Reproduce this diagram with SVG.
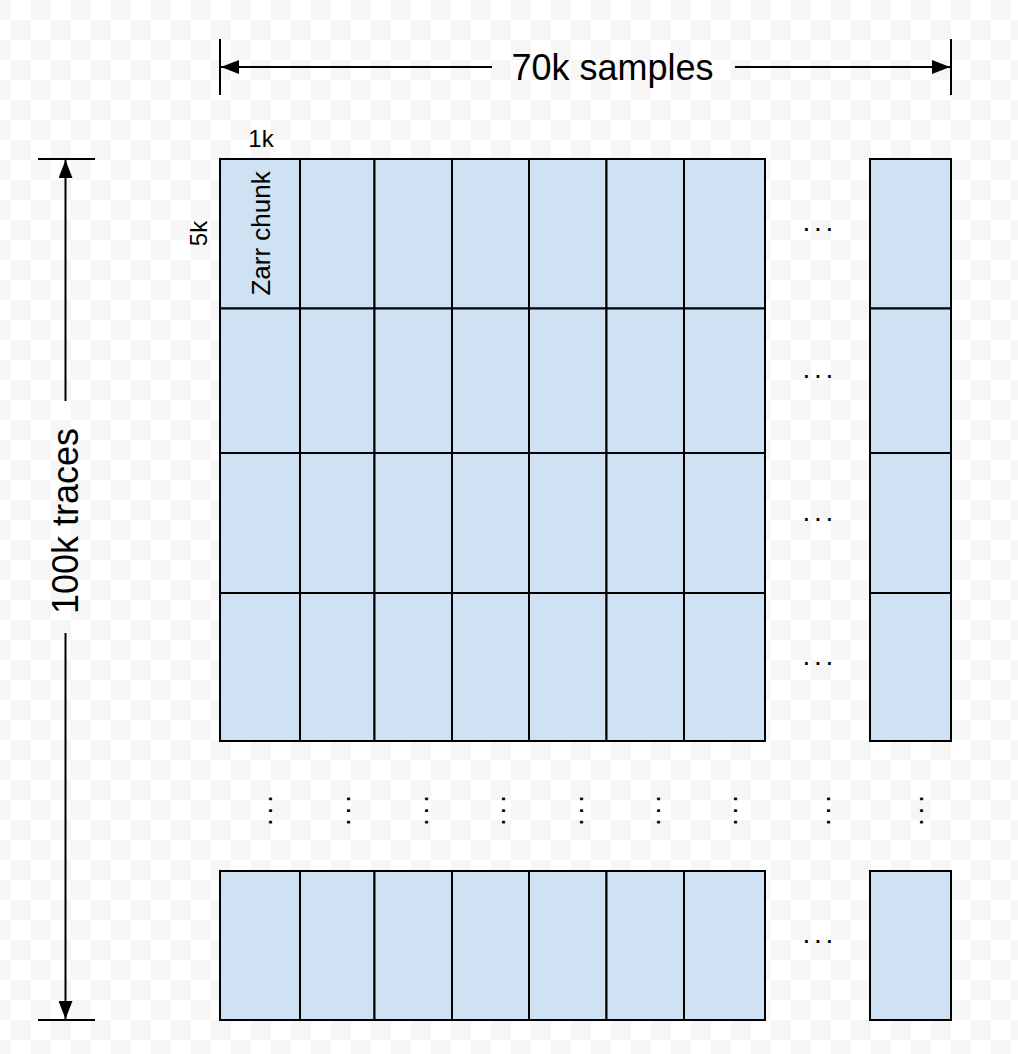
<svg xmlns="http://www.w3.org/2000/svg" width="1018" height="1054" viewBox="0 0 1018 1054">
<defs>
<pattern id="checker" x="-9" y="0" width="40" height="40" patternUnits="userSpaceOnUse">
<rect x="0" y="0" width="40" height="40" fill="#ffffff"/>
<rect x="0" y="0" width="20" height="20" fill="#f6f6f6"/>
<rect x="20" y="20" width="20" height="20" fill="#f6f6f6"/>
</pattern>
<marker id="arr" viewBox="0 0 18 14" refX="18" refY="7" markerWidth="18" markerHeight="14" markerUnits="userSpaceOnUse" orient="auto-start-reverse">
<path d="M0,0 L18,7 L0,14 z" fill="#000"/>
</marker>
<style>
.c{fill:#cfe2f3;stroke:#000;stroke-width:2}
.t{font-family:"Liberation Sans",Arial,sans-serif;fill:#000}
.big{font-size:36px}
.sm{font-size:24px}
.dots{font-family:"Liberation Sans",Arial,sans-serif;font-size:28px;letter-spacing:3.75px;fill:#000}
.ln{stroke:#000;stroke-width:2;fill:none}
</style>
</defs>
<rect x="0" y="0" width="1018" height="1054" fill="url(#checker)"/>

<g id="connectors">
<line class="ln" x1="220" y1="39" x2="220" y2="95"/>
<line class="ln" x1="951" y1="39" x2="951" y2="95"/>
<path class="ln" d="M492,67 L221,67" marker-end="url(#arr)"/>
<path class="ln" d="M735,67 L950,67" marker-end="url(#arr)"/>
<line class="ln" x1="38" y1="159" x2="95" y2="159"/>
<line class="ln" x1="38" y1="1020" x2="95" y2="1020"/>
<path class="ln" d="M65.5,401 L65.5,160" marker-end="url(#arr)"/>
<path class="ln" d="M65.5,633 L65.5,1019" marker-end="url(#arr)"/>
</g>

<g id="labels">
<text class="t big" x="612.5" y="79.5" text-anchor="middle">70k samples</text>
<text class="t big" text-anchor="middle" transform="translate(78,521) rotate(-90)">100k traces</text>
<text class="t sm" x="261" y="146.5" text-anchor="middle">1k</text>
<text class="t sm" text-anchor="middle" transform="translate(206.5,233.5) rotate(-90)">5k</text>
</g>

<g id="r1">
<g id="c1-1"><rect class="c" x="220" y="159" width="80" height="149.5"/><text class="t" style="font-size:26px" text-anchor="middle" transform="translate(269.5,233.4) rotate(-90)">Zarr chunk</text></g>
<g id="c1-2"><rect class="c" x="300" y="159" width="74.5" height="149.5"/></g>
<g id="c1-3"><rect class="c" x="374.5" y="159" width="77.5" height="149.5"/></g>
<g id="c1-4"><rect class="c" x="452" y="159" width="77" height="149.5"/></g>
<g id="c1-5"><rect class="c" x="529" y="159" width="77.5" height="149.5"/></g>
<g id="c1-6"><rect class="c" x="606.5" y="159" width="77.5" height="149.5"/></g>
<g id="c1-7"><rect class="c" x="684" y="159" width="81" height="149.5"/></g>
<g id="c1-n"><rect class="c" x="870" y="159" width="81" height="149.5"/></g>
</g>
<g id="r2">
<g id="c2-1"><rect class="c" x="220" y="308.5" width="80" height="144.5"/></g>
<g id="c2-2"><rect class="c" x="300" y="308.5" width="74.5" height="144.5"/></g>
<g id="c2-3"><rect class="c" x="374.5" y="308.5" width="77.5" height="144.5"/></g>
<g id="c2-4"><rect class="c" x="452" y="308.5" width="77" height="144.5"/></g>
<g id="c2-5"><rect class="c" x="529" y="308.5" width="77.5" height="144.5"/></g>
<g id="c2-6"><rect class="c" x="606.5" y="308.5" width="77.5" height="144.5"/></g>
<g id="c2-7"><rect class="c" x="684" y="308.5" width="81" height="144.5"/></g>
<g id="c2-n"><rect class="c" x="870" y="308.5" width="81" height="144.5"/></g>
</g>
<g id="r3">
<g id="c3-1"><rect class="c" x="220" y="453" width="80" height="140"/></g>
<g id="c3-2"><rect class="c" x="300" y="453" width="74.5" height="140"/></g>
<g id="c3-3"><rect class="c" x="374.5" y="453" width="77.5" height="140"/></g>
<g id="c3-4"><rect class="c" x="452" y="453" width="77" height="140"/></g>
<g id="c3-5"><rect class="c" x="529" y="453" width="77.5" height="140"/></g>
<g id="c3-6"><rect class="c" x="606.5" y="453" width="77.5" height="140"/></g>
<g id="c3-7"><rect class="c" x="684" y="453" width="81" height="140"/></g>
<g id="c3-n"><rect class="c" x="870" y="453" width="81" height="140"/></g>
</g>
<g id="r4">
<g id="c4-1"><rect class="c" x="220" y="593" width="80" height="148"/></g>
<g id="c4-2"><rect class="c" x="300" y="593" width="74.5" height="148"/></g>
<g id="c4-3"><rect class="c" x="374.5" y="593" width="77.5" height="148"/></g>
<g id="c4-4"><rect class="c" x="452" y="593" width="77" height="148"/></g>
<g id="c4-5"><rect class="c" x="529" y="593" width="77.5" height="148"/></g>
<g id="c4-6"><rect class="c" x="606.5" y="593" width="77.5" height="148"/></g>
<g id="c4-7"><rect class="c" x="684" y="593" width="81" height="148"/></g>
<g id="c4-n"><rect class="c" x="870" y="593" width="81" height="148"/></g>
</g>
<g id="rn">
<g id="cn-1"><rect class="c" x="220" y="871" width="80" height="149"/></g>
<g id="cn-2"><rect class="c" x="300" y="871" width="74.5" height="149"/></g>
<g id="cn-3"><rect class="c" x="374.5" y="871" width="77.5" height="149"/></g>
<g id="cn-4"><rect class="c" x="452" y="871" width="77" height="149"/></g>
<g id="cn-5"><rect class="c" x="529" y="871" width="77.5" height="149"/></g>
<g id="cn-6"><rect class="c" x="606.5" y="871" width="77.5" height="149"/></g>
<g id="cn-7"><rect class="c" x="684" y="871" width="81" height="149"/></g>
<g id="cn-n"><rect class="c" x="870" y="871" width="81" height="149"/></g>
</g>

<g id="ellipses">
<text class="dots" x="802.4" y="231.4">...</text>
<text class="dots" x="802.4" y="378.4">...</text>
<text class="dots" x="802.4" y="520.6">...</text>
<text class="dots" x="802.4" y="664.6">...</text>
<text class="dots" x="802.4" y="943.1">...</text>
<text class="dots" transform="translate(269.2,795.1) rotate(90)">...</text>
<text class="dots" transform="translate(346.5,795.1) rotate(90)">...</text>
<text class="dots" transform="translate(424.5,795.1) rotate(90)">...</text>
<text class="dots" transform="translate(501.5,795.1) rotate(90)">...</text>
<text class="dots" transform="translate(579.5,795.1) rotate(90)">...</text>
<text class="dots" transform="translate(656.5,795.1) rotate(90)">...</text>
<text class="dots" transform="translate(733.5,795.1) rotate(90)">...</text>
<text class="dots" transform="translate(826.5,795.1) rotate(90)">...</text>
<text class="dots" transform="translate(919.5,795.1) rotate(90)">...</text>
</g>
</svg>
